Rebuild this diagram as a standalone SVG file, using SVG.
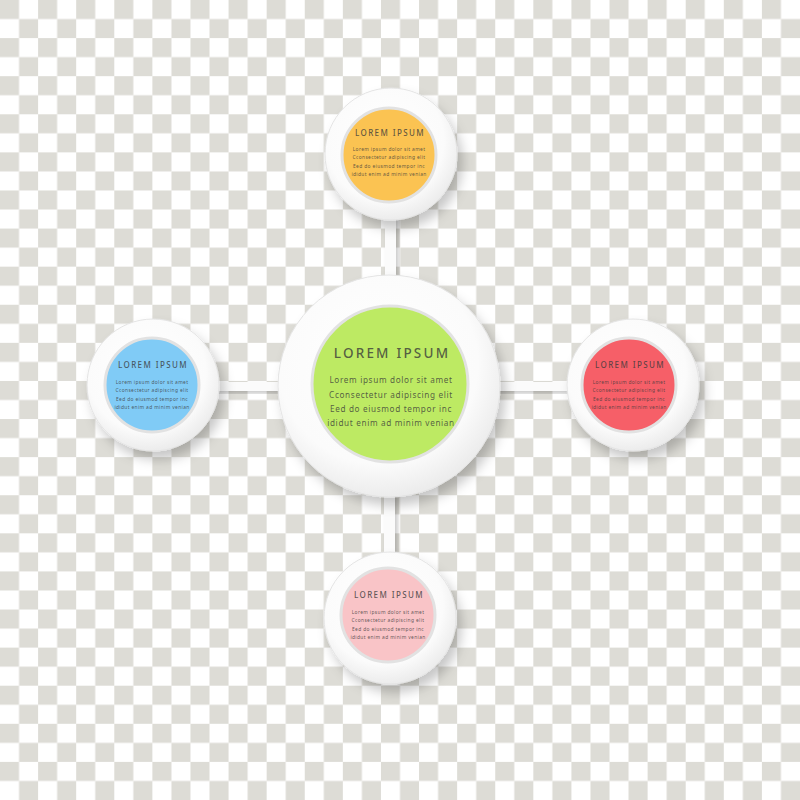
<svg xmlns="http://www.w3.org/2000/svg" width="800" height="800" viewBox="0 0 800 800">
<defs>
<pattern id="checker" x="0" y="0" width="38.095" height="38.095" patternUnits="userSpaceOnUse">
<rect x="0" y="0" width="38.095" height="38.095" fill="#ffffff"/>
<rect x="0" y="0" width="19.048" height="19.048" fill="#dddcd6"/>
<rect x="19.048" y="19.048" width="19.048" height="19.048" fill="#dddcd6"/>
</pattern>
<radialGradient id="ring" cx="45%" cy="40%" r="60%">
<stop offset="0" stop-color="#ffffff"/>
<stop offset="0.75" stop-color="#fbfbfb"/>
<stop offset="1" stop-color="#ececec"/>
</radialGradient>
<filter id="shadow" x="-30%" y="-30%" width="160%" height="160%">
<feDropShadow dx="5" dy="8" stdDeviation="6" flood-color="#000" flood-opacity="0.22"/>
</filter>
<filter id="barshadow" x="-30%" y="-30%" width="160%" height="160%">
<feDropShadow dx="3" dy="3" stdDeviation="2" flood-color="#000" flood-opacity="0.2"/>
</filter>
</defs>
<style>
.outer{fill:url(#ring);stroke:#e4e4e4;stroke-width:1;filter:url(#shadow)}
.inner{stroke:#e2e2e2;stroke-width:3}
.bar{fill:#fbfbfb;filter:url(#barshadow)}
.title{font-family:"Noto Sans","Liberation Sans",sans-serif;font-weight:500;text-anchor:middle;fill:#3a3a3a;fill-opacity:0.8}
.body{font-family:"Noto Sans","Liberation Sans",sans-serif;text-anchor:middle;fill:#3a3a3a;fill-opacity:0.8}
.big{font-size:13.5px;letter-spacing:2.2px}
.bigb{font-size:8.2px;letter-spacing:0.65px}
.sm{font-size:8px;letter-spacing:1.4px}
.smb{font-size:4.9px;letter-spacing:0.35px}
</style>
<rect x="0" y="0" width="800" height="800" fill="url(#checker)"/>
<g id="connectors">
<rect class="bar" x="385" y="205" width="11" height="80"/>
<rect class="bar" x="384" y="485" width="11" height="80"/>
<rect class="bar" x="205" y="382" width="85" height="9"/>
<rect class="bar" x="490" y="382" width="90" height="9"/>
</g>
<g id="node-top">
<circle class="outer" cx="391" cy="154" r="66"/>
<circle class="inner" cx="389" cy="155" r="47" fill="#fbc352"/>
<text class="title sm" x="390" y="135.5">LOREM IPSUM</text>
<text class="body smb" x="389" y="151">Lorem ipsum dolor sit amet</text>
<text class="body smb" x="389" y="159.3">Cconsectetur adipiscing elit</text>
<text class="body smb" x="389" y="167.6">Eed do eiusmod tempor inc</text>
<text class="body smb" x="389" y="175.9">ididut enim ad minim venian</text>
</g>
<g id="node-left">
<circle class="outer" cx="153" cy="385" r="66"/>
<circle class="inner" cx="152" cy="385" r="47" fill="#80cbf6"/>
<text class="title sm" x="153" y="367.5">LOREM IPSUM</text>
<text class="body smb" x="152" y="384">Lorem ipsum dolor sit amet</text>
<text class="body smb" x="152" y="392.3">Cconsectetur adipiscing elit</text>
<text class="body smb" x="152" y="400.6">Eed do eiusmod tempor inc</text>
<text class="body smb" x="152" y="408.9">ididut enim ad minim venian</text>
</g>
<g id="node-right">
<circle class="outer" cx="633" cy="385" r="66"/>
<circle class="inner" cx="629" cy="385" r="47" fill="#f65f68"/>
<text class="title sm" x="630" y="367.5">LOREM IPSUM</text>
<text class="body smb" x="629" y="384">Lorem ipsum dolor sit amet</text>
<text class="body smb" x="629" y="392.3">Cconsectetur adipiscing elit</text>
<text class="body smb" x="629" y="400.6">Eed do eiusmod tempor inc</text>
<text class="body smb" x="629" y="408.9">ididut enim ad minim venian</text>
</g>
<g id="node-bottom">
<circle class="outer" cx="390" cy="618" r="66"/>
<circle class="inner" cx="388" cy="615" r="47" fill="#f9c4c7"/>
<text class="title sm" x="389" y="597.5">LOREM IPSUM</text>
<text class="body smb" x="388" y="614">Lorem ipsum dolor sit amet</text>
<text class="body smb" x="388" y="622.3">Cconsectetur adipiscing elit</text>
<text class="body smb" x="388" y="630.6">Eed do eiusmod tempor inc</text>
<text class="body smb" x="388" y="638.9">ididut enim ad minim venian</text>
</g>
<g id="node-center">
<circle class="outer" cx="389" cy="386" r="111"/>
<circle class="inner" cx="390" cy="384" r="78" fill="#bdea63"/>
<text class="title big" x="392" y="358">LOREM IPSUM</text>
<text class="body bigb" x="391" y="383">Lorem ipsum dolor sit amet</text>
<text class="body bigb" x="391" y="397.5">Cconsectetur adipiscing elit</text>
<text class="body bigb" x="391" y="411.5">Eed do eiusmod tempor inc</text>
<text class="body bigb" x="391" y="425.5">ididut enim ad minim venian</text>
</g>
</svg>
